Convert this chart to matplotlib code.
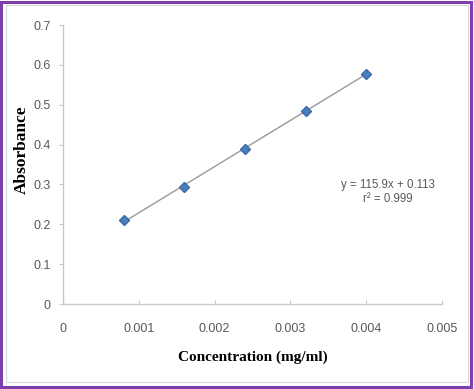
import numpy as np
import matplotlib
matplotlib.use("Agg")
import matplotlib.pyplot as plt
from matplotlib.patches import Rectangle

# dati della curva di calibrazione
concentrazione = [0.0008, 0.0016, 0.0024, 0.0032, 0.004]
assorbanza = [0.21, 0.293, 0.39, 0.485, 0.578]
pendenza = 115.9
intercetta = 0.113
x_ticks = [0, 0.001, 0.002, 0.003, 0.004, 0.005]
x_tick_labels = ["0", "0.001", "0.002", "0.003", "0.004", "0.005"]
y_ticks = [0, 0.1, 0.2, 0.3, 0.4, 0.5, 0.6, 0.7]
y_tick_labels = ["0", "0.1", "0.2", "0.3", "0.4", "0.5", "0.6", "0.7"]

fig = plt.figure(figsize=(4.74, 3.89), dpi=100)

# cornice viola
fig.patches.append(Rectangle((0.0025, 0.005), 0.992, 0.99, transform=fig.transFigure,
                             fill=False, edgecolor="#7b3fb0", linewidth=2.2))
fig.patches.append(Rectangle((0.012, 0.018), 0.975, 0.968, transform=fig.transFigure,
                             fill=False, edgecolor="#d8d8d8", linewidth=0.8))

ax = fig.add_axes([0.133, 0.2185, 0.7995, 0.7172])

# retta di regressione
x_retta = np.array([concentrazione[0], concentrazione[-1]])
ax.plot(x_retta, pendenza * x_retta + intercetta, color="#999999", linewidth=1.0, zorder=2)
ax.plot(concentrazione, assorbanza, linestyle="none", marker="D", markersize=5.5,
        color="#4a7ebb", markeredgecolor="#3a6aa8", zorder=3)

ax.set_xlim(0, 0.005)
ax.set_ylim(0, 0.7)
ax.set_xticks(x_ticks)
ax.set_xticklabels(x_tick_labels)
ax.set_yticks(y_ticks)
ax.set_yticklabels(y_tick_labels)

for lato in ["top", "right"]:
    ax.spines[lato].set_visible(False)
for lato in ["left", "bottom"]:
    ax.spines[lato].set_color("#c8c8c8")
    ax.spines[lato].set_linewidth(1.0)

ax.tick_params(axis="y", direction="out", length=3, color="#c8c8c8",
               labelsize=9, labelcolor="#595959", pad=6)
ax.tick_params(axis="x", direction="in", length=3, color="#c8c8c8",
               labelsize=9, labelcolor="#595959", pad=14)
for lab in ax.get_xticklabels() + ax.get_yticklabels():
    lab.set_fontfamily("Liberation Sans")

ax.set_xlabel("Concentration (mg/ml)", fontsize=11, fontweight="bold",
              fontfamily="Liberation Serif", labelpad=11)
ax.set_ylabel("Absorbance", fontsize=12.5, fontweight="bold",
              fontfamily="Liberation Serif")
ax.yaxis.set_label_coords(-0.088, 0.552)

ax.text(0.00429, 0.281, "y = 115.9x + 0.113\nr² = 0.999", fontsize=8.3,
        color="#595959", ha="center", va="center", linespacing=1.3,
        fontfamily="Liberation Sans")

fig.savefig("out.png", dpi=100, facecolor="white")
